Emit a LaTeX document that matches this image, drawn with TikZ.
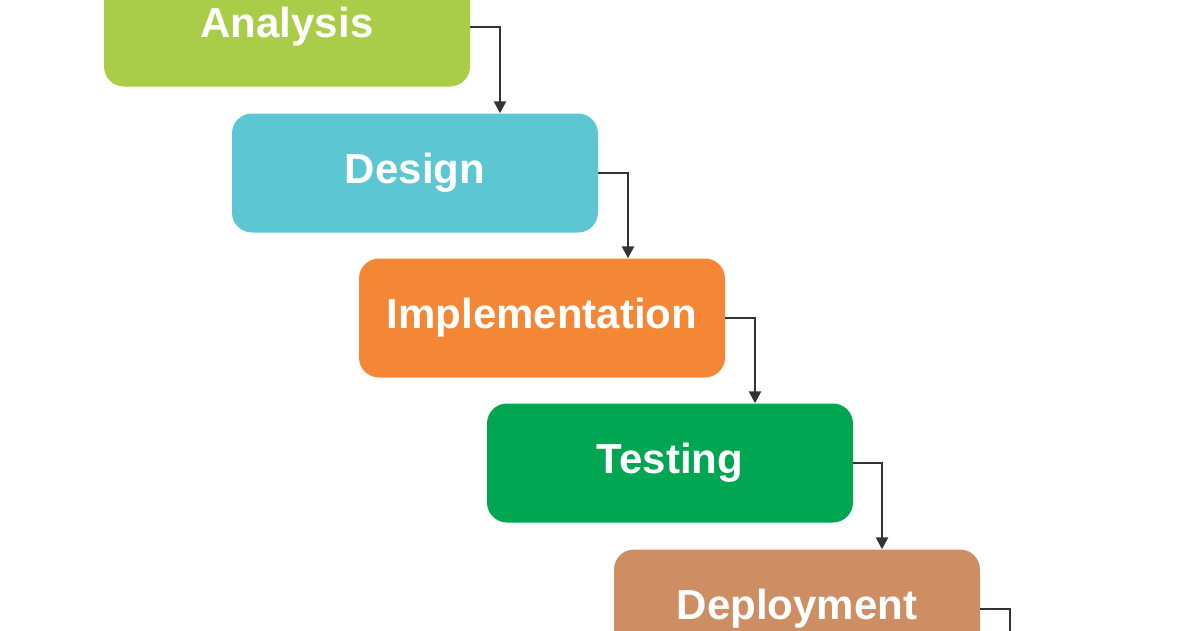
\documentclass[tikz,border=0pt]{standalone}
\usepackage{fontspec}
\setmainfont{Liberation Sans}
\usetikzlibrary{arrows.meta}
\definecolor{cA}{HTML}{A9CD48}
\definecolor{cD}{HTML}{5CC7D2}
\definecolor{cI}{HTML}{F38735}
\definecolor{cT}{HTML}{00A651}
\definecolor{cP}{HTML}{CD8E64}
\definecolor{ln}{HTML}{333333}
\begin{document}
\begin{tikzpicture}[x=1pt,y=-1pt,
  stage/.style={rounded corners=20pt,minimum width=366pt,minimum height=119pt,inner sep=0pt,text=white,font=\fontsize{42}{46}\selectfont\bfseries},
  conn/.style={draw=ln,line width=2.5pt,-{Triangle[length=12pt,width=12pt]}}]
\useasboundingbox (0,0) rectangle (1200,630);
\clip (0,0) rectangle (1200,630);
\node[stage,fill=cA] (a) at (287,27) {Analysis};
\node[stage,fill=cD] (d) at (415,173) {Design};
\node[stage,fill=cI] (i) at (542,318) {Implementation};
\node[stage,fill=cT] (t) at (670,463) {Testing};
\node[stage,fill=cP] (p) at (797,609) {Deployment};
\coordinate (e) at (1010,640);
\draw[conn] (a.east) -| (d.north -| 500,0);
\draw[conn] (d.east) -| (i.north -| 628,0);
\draw[conn] (i.east) -| (t.north -| 755,0);
\draw[conn] (t.east) -| (p.north -| 882,0);
\draw[draw=ln,line width=2.5pt] (p.east) -| (e);
\end{tikzpicture}
\end{document}
